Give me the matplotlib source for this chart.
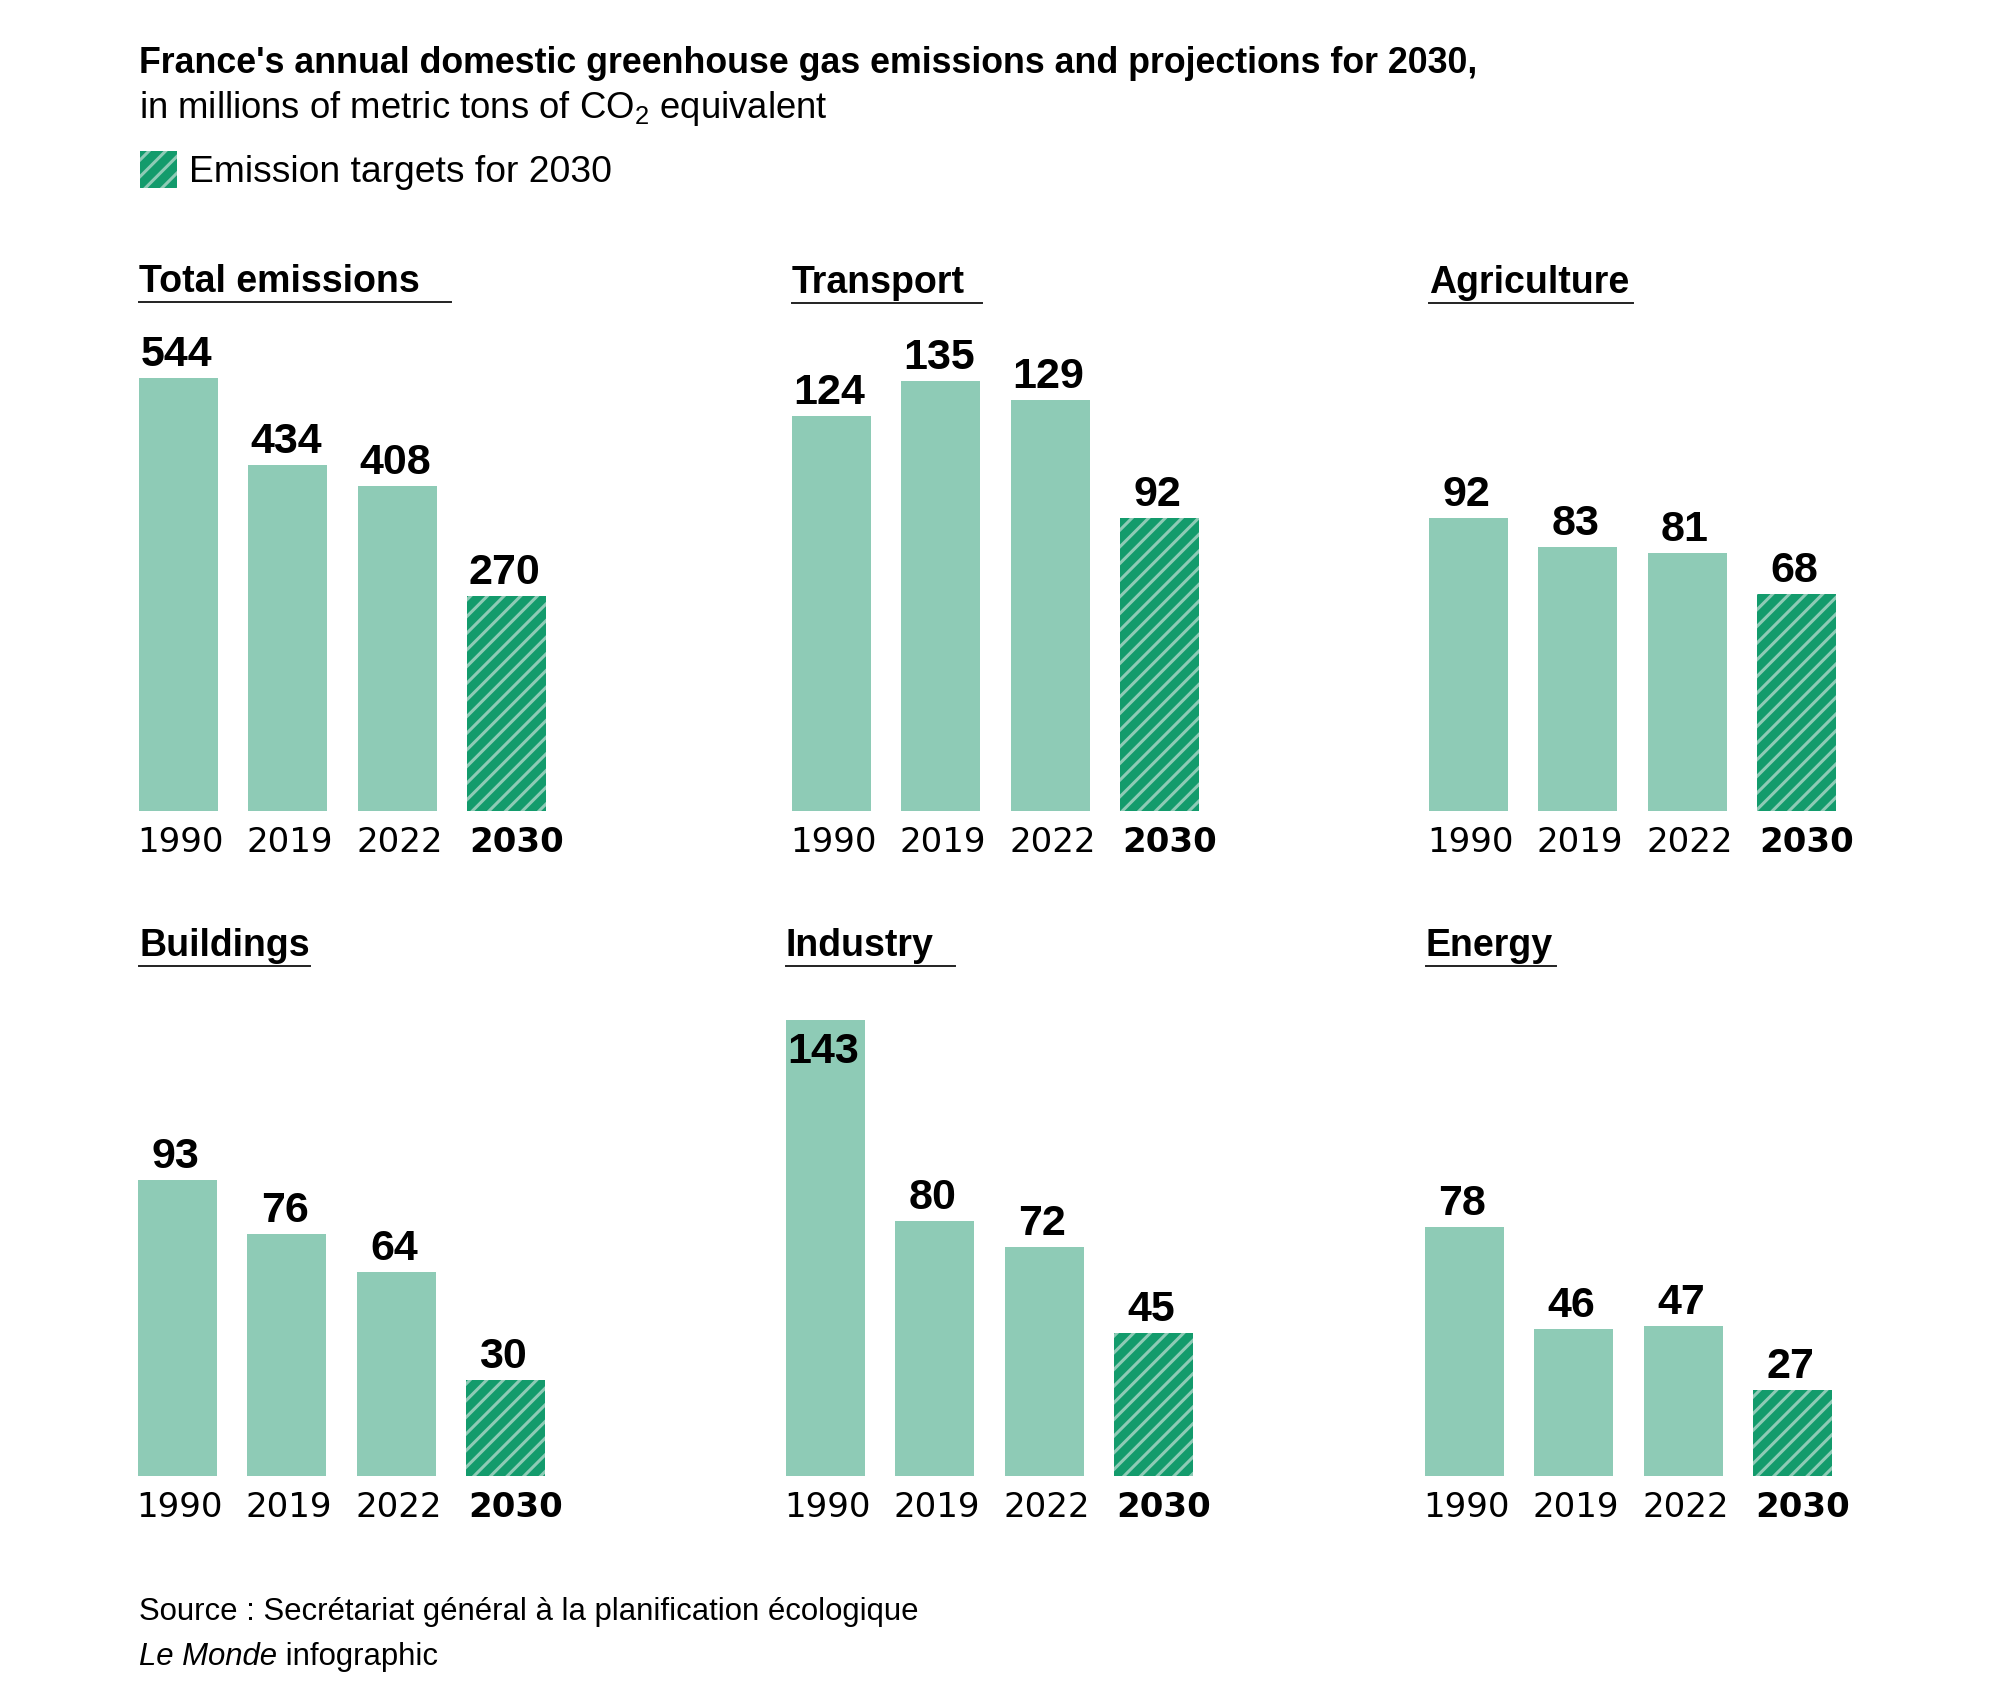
import matplotlib
matplotlib.use("Agg")
import matplotlib.pyplot as plt
from matplotlib.patches import Rectangle
from matplotlib.lines import Line2D

# ---------------- data ----------------
years = ["1990", "2019", "2022", "2030"]
panel_titles = ["Total emissions", "Transport", "Agriculture",
                "Buildings", "Industry", "Energy"]
total_emissions = [544, 434, 408, 270]
transport = [124, 135, 129, 92]
agriculture = [92, 83, 81, 68]
buildings = [93, 76, 64, 30]
industry = [143, 80, 72, 45]
energy = [78, 46, 47, 27]
series = [total_emissions, transport, agriculture, buildings, industry, energy]

title = "France's annual domestic greenhouse gas emissions and projections for 2030,"
subtitle = "in millions of metric tons of CO$_2$ equivalent"
legend_label = "Emission targets for 2030"
source = "Source : Secrétariat général à la planification écologique"

# ---------------- style ----------------
LIGHT = "#8ecbb6"
DARK = "#139b6c"
SANS = ["Liberation Sans", "DejaVu Sans"]
YEARF = ["DejaVu Sans"]
plt.rcParams["hatch.linewidth"] = 2.2
plt.rcParams["mathtext.fontset"] = "custom"
plt.rcParams["mathtext.rm"] = "Liberation Sans"

W, H = 2000, 1684
fig = plt.figure(figsize=(W / 100, H / 100), dpi=100)
fig.patch.set_facecolor("white")
renderer = fig.canvas.get_renderer()


def fx(px):
    return px / W


def fy(py):
    return 1 - py / H


def fit(t, target_px):
    w = t.get_window_extent(renderer).width
    t.set_fontsize(t.get_fontsize() * target_px / w)
    return t


# layout (pixels in the full image)
spacing = 109.3
bar_w = 0.723
ax_h = 478
bar_lefts = [139, 792, 1429, 138, 786, 1425]
baselines = [811, 811, 811, 1476, 1476, 1476]
ylims = [600, 150, 150, 150, 150, 150]
title_base = [292, 293, 293, 956, 956, 956]
underline = [(139, 451), (792, 982), (1429, 1633),
             (139, 310), (786, 955), (1426, 1556)]

for i, vals in enumerate(series):
    left = bar_lefts[i] - (0.5 - bar_w / 2) * spacing
    ax = fig.add_axes([fx(left), fy(baselines[i]), fx(4 * spacing), ax_h / H])
    ax.set_xlim(-0.5, 3.5)
    ax.set_ylim(0, ylims[i])
    ax.axis("off")
    xs = list(range(len(years)))
    ax.bar(xs[:3], vals[:3], width=bar_w, color=LIGHT, linewidth=0)
    ax.bar(xs[3:], vals[3:], width=bar_w, facecolor=DARK, edgecolor=LIGHT,
           hatch="//", linewidth=0)
    for x, v in zip(xs, vals):
        inside = v / ylims[i] > 0.93
        ax.annotate(str(v), (x, v), xytext=(-1.5, -31 if inside else 8.6),
                    textcoords="offset points", ha="center", va="baseline",
                    fontsize=31, fontweight="bold", family=SANS, color="black",
                    annotation_clip=False)
    for x, y in zip(xs, years):
        ax.annotate(y, (x - bar_w / 2, 0), xytext=(-1 if x < 3 else 2, -29.5),
                    textcoords="offset points", ha="left", va="baseline",
                    fontsize=24.5, fontweight="bold" if x == 3 else "normal",
                    family=YEARF, color="black", annotation_clip=False)
    # panel title with underline
    fig.text(fx(underline[i][0]), fy(title_base[i]), panel_titles[i],
             ha="left", va="baseline", fontsize=27, fontweight="bold",
             family=SANS)
    x0, x1 = underline[i]
    uy = title_base[i] + 10
    fig.add_artist(Line2D([fx(x0), fx(x1)], [fy(uy), fy(uy)], color="#222222",
                          linewidth=1.4, transform=fig.transFigure))

# header
t = fig.text(fx(139), fy(73), title, ha="left", va="baseline", fontsize=24,
             fontweight="bold", family=SANS)
fit(t, 1343)
t = fig.text(fx(139), fy(118), subtitle, ha="left", va="baseline", fontsize=24,
             family=SANS)
fit(t, 690)
fig.add_artist(Rectangle((fx(140), fy(188)), fx(37), 37 / H, facecolor=DARK,
                         edgecolor=LIGHT, hatch="//", linewidth=0,
                         transform=fig.transFigure))
t = fig.text(fx(189), fy(182), legend_label, ha="left", va="baseline",
             fontsize=24, family=SANS)
fit(t, 423)

# footer
t = fig.text(fx(139), fy(1620), source, ha="left", va="baseline", fontsize=20,
             family=SANS)
fit(t, 776)
fs = t.get_fontsize()
line2_y = 1665
t2 = fig.text(fx(139), fy(line2_y), "Le Monde", ha="left", va="baseline",
              fontsize=fs, family=SANS, style="italic")
fig.text(0, 0, " infographic", ha="left", va="baseline", fontsize=fs,
         family=SANS,
         transform=matplotlib.transforms.offset_copy(
             fig.transFigure, fig=fig,
             x=t2.get_window_extent(renderer).x1 / 100 * 72,
             y=(H - line2_y) / 100 * 72, units="points"))

fig.savefig("out.png", dpi=100, facecolor="white")
